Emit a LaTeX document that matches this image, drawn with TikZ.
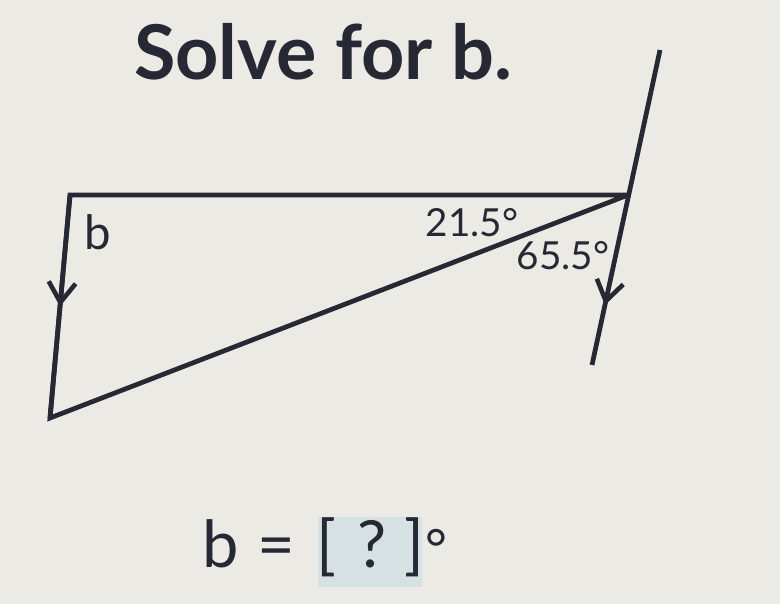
\documentclass[tikz,border=0pt]{standalone}
\usepackage{fontspec}
\setmainfont{Lato}
\usetikzlibrary{arrows.meta,decorations.markings}

\definecolor{paper}{RGB}{235,234,229}
\definecolor{ink}{RGB}{38,40,52}
\definecolor{blank}{RGB}{213,225,227}

\tikzset{
	seg/.style={ink, line width=2.7pt, line join=miter, miter limit=4},
	parline/.style={seg, postaction={decorate}, decoration={markings,
		mark=at position #1 with {\arrow[ink, line width=2.6pt]{Straight Barb[length=4mm,width=5.4mm]}}}},
	lbl/.style={ink, anchor=base, inner sep=0pt, font=\fontsize{22}{26}\selectfont},
	ans/.style={ink, anchor=base, inner sep=0pt, font=\fontsize{37}{44}\selectfont},
}

\begin{document}
\begin{tikzpicture}[x=0.02cm, y=-0.02cm]
	\fill[paper] (0,0) rectangle (780,604);
	\useasboundingbox (0,0) rectangle (780,604);

	% title
	\node[ink, anchor=base, inner sep=0pt, font=\fontsize{43}{52}\selectfont\bfseries] (title) at (323,80) {Solve for b.};

	% figure corners
	\coordinate (tl) at (70,195);
	\coordinate (bl) at (50,418);
	\coordinate (apex) at (628,195);
	\coordinate (top) at (660,50);
	\coordinate (bot) at (592,365);

	\draw[seg] (tl) -- (bl) -- (apex) -- cycle;
	\draw[parline=0.5] (tl) -- (bl);
	\draw[parline=0.81] (top) -- (bot);

	\node[lbl, font=\fontsize{27}{32}\selectfont] (bname) at (98,250) {b};
	\node[lbl] (small) at (472,237) {21.5°};
	\node[lbl] (big) at (563,270) {65.5°};

	% answer line
	\node[fill=blank, minimum width=104*0.02cm, minimum height=70*0.02cm, inner sep=0pt] (blankbox) at (370,552) {};
	\node[ans] (bvar) at (221,567) {b};
	\node[ans] (eq) at (276,567) {=};
	\node[ans] (lbr) at (326,567) {[};
	\node[ans] (qm) at (372,567) {?};
	\node[ans] (rbr) at (414,567) {]};
	\node[ans, font=\fontsize{30}{36}\selectfont] (deg) at (436,567) {°};
\end{tikzpicture}
\end{document}
